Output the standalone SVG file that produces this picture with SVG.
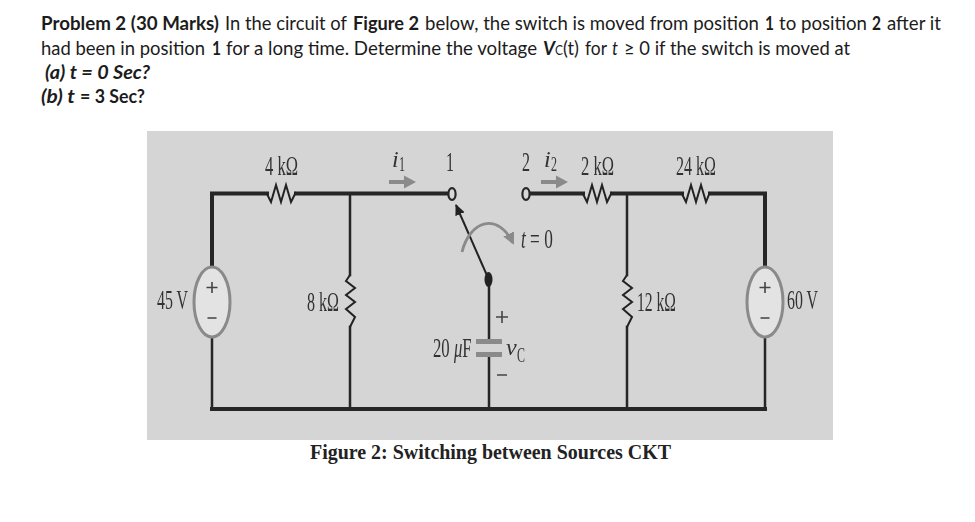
<svg xmlns="http://www.w3.org/2000/svg" width="975" height="522" viewBox="0 0 975 522">
<style>
.h{font-family:"Lato","Open Sans",sans-serif;font-size:18.500px;fill:#1c1c1c}
.b{font-weight:700}
.i{font-style:italic}
.l{font-family:"Liberation Serif","Times New Roman",serif;font-size:27px;fill:#333}
.s{font-size:20px}
.w{fill:none;stroke:#262626;stroke-linecap:square}
.t{stroke-width:4}
.n{stroke-width:2.5}
.r{fill:none;stroke:#222;stroke-width:2;stroke-linejoin:miter}
.g{fill:#8a8a8a}
.src{fill:#e3e3e3;stroke:#8a8a8a;stroke-width:3}
.term{fill:#d8d8d8;stroke:#262626;stroke-width:2.2}
.sym{stroke:#444;stroke-width:1.600;fill:none}
</style>
<defs>
<filter id="soft" x="-2%" y="-2%" width="104%" height="104%"><feGaussianBlur stdDeviation="0.45"/></filter>
<marker id="head" markerWidth="12" markerHeight="12" refX="10" refY="5" orient="auto" markerUnits="userSpaceOnUse"><path d="M0 0L11 5L0 10Z" fill="#222"/></marker>
<marker id="garrow" markerWidth="14" markerHeight="14" refX="10" refY="6" orient="auto" markerUnits="userSpaceOnUse"><path d="M0 0L12 6L0 12Z" fill="#8a8a8a"/></marker>
</defs>
<rect width="975" height="522" fill="#fff"/>
<g id="problem-text">
<text class="h b" x="41" y="30" textLength="178" lengthAdjust="spacingAndGlyphs">Problem 2 (30 Marks)</text>
<text class="h" x="225" y="30" textLength="122" lengthAdjust="spacingAndGlyphs">In the circuit of</text>
<text class="h b" x="353" y="30" textLength="66" lengthAdjust="spacingAndGlyphs">Figure 2</text>
<text class="h" x="425" y="30" textLength="334" lengthAdjust="spacingAndGlyphs">below, the switch is moved from position</text>
<text class="h b" x="765" y="30" textLength="9" lengthAdjust="spacingAndGlyphs">1</text>
<text class="h" x="779" y="30" textLength="88" lengthAdjust="spacingAndGlyphs">to position</text>
<text class="h b" x="872" y="30" textLength="9" lengthAdjust="spacingAndGlyphs">2</text>
<text class="h" x="887" y="30" textLength="54" lengthAdjust="spacingAndGlyphs">after it</text>
<text class="h" x="41" y="55" textLength="164" lengthAdjust="spacingAndGlyphs">had been in position</text>
<text class="h b" x="212" y="55" textLength="9" lengthAdjust="spacingAndGlyphs">1</text>
<text class="h" x="226" y="55" textLength="311" lengthAdjust="spacingAndGlyphs">for a long time. Determine the voltage</text>
<text class="h b i" x="543" y="55" textLength="12" lengthAdjust="spacingAndGlyphs">V</text>
<text class="h" x="555" y="55" style="font-size:14px" textLength="8" lengthAdjust="spacingAndGlyphs">C</text>
<text class="h" x="563" y="55" textLength="16" lengthAdjust="spacingAndGlyphs">(t)</text>
<text class="h" x="585" y="55" textLength="22" lengthAdjust="spacingAndGlyphs">for</text>
<text class="h i" x="612" y="55" textLength="6" lengthAdjust="spacingAndGlyphs">t</text>
<text class="h" x="624" y="55" textLength="226" lengthAdjust="spacingAndGlyphs">≥ 0 if the switch is moved at</text>
<text class="h b i" x="45" y="79" textLength="105" lengthAdjust="spacingAndGlyphs">(a) t = 0 Sec?</text>
<text class="h b i" x="41" y="103" textLength="34" lengthAdjust="spacingAndGlyphs">(b) t</text>
<text class="h b" x="80" y="103" textLength="65" lengthAdjust="spacingAndGlyphs">= 3 Sec?</text>
</g>
<rect id="panel" x="147" y="131" width="686" height="309" fill="#d5d5d5"/>
<g filter="url(#soft)">
<g id="connectors">
<path class="w t" d="M212 267V193.500H267M296 193.500H448M530 193.500H583M612 193.500H682M710 193.500H765V267"/>
<path class="w n" d="M350 193.500V275M350 327V409M627 193.500V275M627 327V409"/>
<path class="w n" d="M212 337V409M765 337V409M489 286V341M489 354V409"/>
<path class="w t" d="M212 409H765"/>
<path d="M489 280L456 205" stroke="#222" stroke-width="2" fill="none" marker-end="url(#head)"/>
<path d="M462 252C470 220 498 212 513 243" stroke="#8a8a8a" stroke-width="2.800" fill="none" marker-end="url(#garrow)"/>
</g>
<g id="r-4k"><path class="r" d="M267 194L271 202L276 185L281 202L286 185L291 202L296 192"/><text class="l" x="265" y="175" textLength="33" lengthAdjust="spacingAndGlyphs">4 kΩ</text></g>
<g id="r-2k"><path class="r" d="M583 194L587 202L592 185L597 202L602 185L607 202L612 192"/><text class="l" x="581" y="175" textLength="33" lengthAdjust="spacingAndGlyphs">2 kΩ</text></g>
<g id="r-24k"><path class="r" d="M682 194L686 202L691 185L696 202L701 185L706 202L710 192"/><text class="l" x="676" y="175" textLength="40" lengthAdjust="spacingAndGlyphs">24 kΩ</text></g>
<g id="r-8k"><path class="r" d="M350 275L346 281L355 288L346 295L355 302L346 309L355 317L350 327"/><text class="l" x="307" y="311" textLength="32" lengthAdjust="spacingAndGlyphs">8 kΩ</text></g>
<g id="r-12k"><path class="r" d="M627 275L623 281L632 288L623 295L632 302L623 309L632 317L627 327"/><text class="l" x="637" y="311" textLength="39" lengthAdjust="spacingAndGlyphs">12 kΩ</text></g>
<g id="v-45"><ellipse class="src" cx="212" cy="302" rx="18" ry="35"/><path class="sym" d="M212 282V293M206.500 287.500H217.500M207.500 318H216.500"/><text class="l" x="157" y="309" textLength="31" lengthAdjust="spacingAndGlyphs">45 V</text></g>
<g id="v-60"><ellipse class="src" cx="765" cy="302" rx="18" ry="35"/><path class="sym" d="M765 282V293M759.500 287.500H770.500M760.500 318H769.500"/><text class="l" x="787" y="309" textLength="31" lengthAdjust="spacingAndGlyphs">60 V</text></g>
<g id="terminal-1"><ellipse class="term" cx="452" cy="194" rx="3.600" ry="5.800"/><text class="l" x="446" y="171" textLength="8" lengthAdjust="spacingAndGlyphs">1</text></g>
<g id="terminal-2"><ellipse class="term" cx="526" cy="194" rx="3.600" ry="5.800"/><text class="l" x="522" y="171" textLength="8" lengthAdjust="spacingAndGlyphs">2</text></g>
<g id="switch"><ellipse cx="488.500" cy="279.500" rx="4" ry="7.500" fill="#222"/><text class="l" transform="translate(521 248) scale(.64 1)"><tspan class="i">t</tspan> = 0</text></g>
<g id="capacitor">
<rect class="g" x="476" y="339" width="26" height="5"/><rect class="g" x="476" y="352" width="26" height="5"/>
<path class="sym" d="M502 311V323M496 317H508M497 375H507"/>
<text class="l" transform="translate(433 357) scale(.62 1)">20 <tspan class="i">μ</tspan>F</text>
<text class="l i" x="506" y="355" style="font-size:24px">v</text>
<text class="l s" x="517" y="362" textLength="8" lengthAdjust="spacingAndGlyphs">C</text>
</g>
<g id="i1"><path class="g" d="M389 180H404V175.500L416 182L404 188.500V184H389Z"/><text class="l i" x="392" y="167" style="font-size:24px">i</text><text class="l s" x="399" y="171" textLength="6" lengthAdjust="spacingAndGlyphs">1</text></g>
<g id="i2"><path class="g" d="M541 180H556V175.500L568 182L556 188.500V184H541Z"/><text class="l i" x="544" y="167" style="font-size:24px">i</text><text class="l s" x="551" y="171" textLength="6" lengthAdjust="spacingAndGlyphs">2</text></g>
</g>
<text id="caption" x="310" y="459" font-family="Liberation Serif, serif" font-weight="700" font-size="20" fill="#222" textLength="361" lengthAdjust="spacingAndGlyphs">Figure 2: Switching between Sources CKT</text>
</svg>
